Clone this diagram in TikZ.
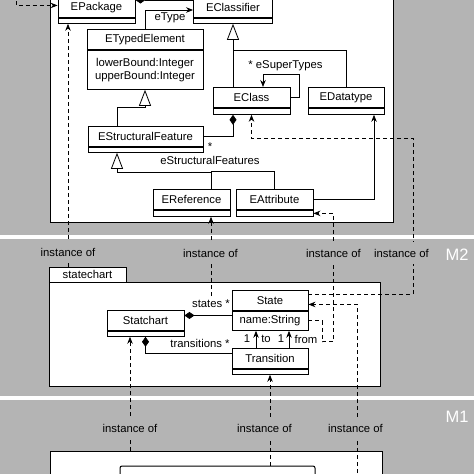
\documentclass[tikz,border=0pt]{standalone}
\usepackage{fontspec}
\setmainfont{Liberation Sans}
\usetikzlibrary{arrows.meta,calc}
\definecolor{bg}{RGB}{180,180,180}
\newcommand{\umlfont}{\fontsize{11.3}{13}\selectfont}
\newcommand{\umlclass}[6]{%
  \node[cname, minimum width=#4pt, anchor=north] (#1) at (#2,#3) {#5};
  \node[ccomp, minimum width=#4pt, minimum height=#6pt, anchor=north] (#1-b) at (#1.south) {};
}
\tikzset{
  cname/.style={draw, fill=white, line width=0.9pt, minimum height=20pt, inner sep=0pt, font=\umlfont},
  ccomp/.style={draw, fill=white, line width=0.9pt, inner sep=0pt, font=\umlfont},
  pkgbox/.style={draw, fill=white, line width=1pt, inner sep=0pt},
  conn/.style={line width=0.8pt},
  assoc/.style={conn, -{Stealth[length=7pt,width=5.5pt]}},
  gen/.style={conn, -{Triangle[open,length=16pt,width=12pt,fill=white]}},
  comp/.style={conn, {Diamond[length=10pt,width=7pt]}-},
  inst/.style={conn, dash pattern=on 4pt off 3pt, -{Stealth[length=7pt,width=5.5pt]}},
  lbl/.style={font=\umlfont, inner sep=1pt},
  inslbl/.style={font=\umlfont, fill=bg, inner xsep=2pt, inner ysep=7pt},
  mlbl/.style={font=\fontsize{16.5}{18}\selectfont, text=white, inner sep=0pt}
}
\begin{document}
\begin{tikzpicture}[x=1pt,y=-1pt]
\useasboundingbox (0,0) rectangle (474,474);
\clip (0,0) rectangle (474,474);
% backgrounds
\fill[bg] (0,0) rectangle (474,474);
\fill[white] (0,234.5) rectangle (474,239);
\fill[white] (0,395.5) rectangle (474,399.5);
% level boxes
\node[pkgbox, minimum width=343pt, minimum height=232pt] (m3) at (221.5,106) {};
\node[pkgbox, minimum width=332pt, minimum height=39pt] (m1) at (216,470.5) {};
\node[pkgbox, minimum width=195pt, minimum height=24pt, rounded corners=2pt] (inner) at (217.5,478) {};
\node[pkgbox, minimum width=331pt, minimum height=104pt] (pkg) at (214.5,334) {};
\node[pkgbox, minimum width=77pt, minimum height=15pt, font=\umlfont] (pkgtab) at (87.5,274.5) {statechart};
% M3 classes
\umlclass{epackage}{96.5}{-3}{77}{EPackage}{5}
\umlclass{eclassifier}{233}{-3}{79}{EClassifier}{5}
\node[cname, minimum width=116pt, anchor=north] (etyped) at (145,29) {ETypedElement};
\node[ccomp, minimum width=116pt, minimum height=39pt, anchor=north, align=center] (etyped-b) at (etyped.south) {lowerBound:Integer\\upperBound:Integer};
\umlclass{eclass}{251.5}{87}{77}{EClass}{6}
\umlclass{edatatype}{346}{87}{76}{EDatatype}{6}
\umlclass{estruct}{145.5}{126}{115}{EStructuralFeature}{5}
\umlclass{eref}{191.5}{189}{77}{EReference}{6}
\umlclass{eattr}{274.5}{189}{77}{EAttribute}{6}
% M2 classes
\umlclass{statchart}{145.5}{310}{77}{Statchart}{5}
\node[cname, minimum width=76pt, anchor=north] (state) at (270,290) {State};
\node[ccomp, minimum width=76pt, minimum height=19pt, anchor=north] (state-b) at (state.south) {name:String};
\umlclass{transition}{270}{348}{76}{Transition}{5}
% M3 connectors
\draw[comp] ([yshift=-3pt]epackage.north east) -- ([yshift=-3pt]eclassifier.north west);
\draw[assoc] (etyped.north) |- ([yshift=-13pt]eclassifier.north west);
\node[lbl] at (170,18) {eType};
\draw[gen] ([xshift=-28.5pt]estruct.north) -- ++(0,-19) -| (etyped-b.south);
\draw[gen] ([xshift=-18.5pt]eclass.north) -- (eclassifier-b.south);
\draw[conn] (edatatype.north) |- ([yshift=-27pt]eclassifier-b.south);
\draw[assoc] (eclass.east) -- ++(9,0) |- ([xshift=11.5pt,yshift=13pt]eclass.north) -- ([xshift=11.5pt]eclass.north);
\node[lbl] at (285.5,66) {* eSuperTypes};
\draw[comp] ([xshift=-18.5pt]eclass-b.south) |- (estruct.east);
\node[lbl] at (210,147) {*};
\node[lbl] at (210,160) {eStructuralFeatures};
\draw[gen] ([xshift=19.5pt]eref.north) |- ([xshift=-28.5pt,yshift=-20pt]estruct-b.south) -- ([xshift=-28.5pt]estruct-b.south);
\draw[conn] (eattr.north) |- ([xshift=19.5pt,yshift=18pt]eref.north);
\draw[assoc] (eattr.east) -| ([xshift=28pt]edatatype-b.south);
% M2 connectors
\draw[comp] ([yshift=5pt]statchart.east) -- ([yshift=5pt]statchart.east -| state.west);
\node[lbl] at (211,304) {states *};
\draw[comp] (statchart-b.south) |- ([yshift=5pt]transition.west);
\node[lbl] at (200,343) {transitions *};
\draw[assoc] ([xshift=-14pt]transition.north) -- ([xshift=-14pt]state-b.south);
\draw[assoc] ([xshift=19pt]transition.north) -- ([xshift=19pt]state-b.south);
\node[lbl] at (247,339) {1};
\node[lbl] at (266,339) {to};
\node[lbl] at (281,339) {1};
\node[lbl] at (306,339) {from};
% instance-of connectors
\coordinate (tl) at (16,-6);
\draw[inst] (tl) |- ([yshift=2pt]epackage.west);
\draw[inst] ([xshift=-19.5pt]pkgtab.north) -- ([xshift=-28.5pt]epackage-b.south);
\coordinate (sref) at (211,296);
\draw[inst] (sref) -- ([xshift=19.5pt]eref-b.south);
\draw[inst] (state-b.east) -- ++(14,0) -- ++(0,21) -- ++(11,0) |- (eattr-b.east);
\coordinate (c1) at (413,138);
\draw[inst] ([yshift=6pt]state.east) -| (c1) -| (eclass-b.south);
\coordinate (c2) at (357,480);
\draw[inst] (c2) |- ([yshift=-4pt]state.east);
\coordinate (c3) at (130,451);
\draw[inst] (c3) -- ([xshift=-15.5pt]statchart-b.south);
\draw[inst] (transition-b.south |- inner.north) -- (transition-b.south);
% labels
\node[inslbl] at (68,252) {instance of};
\node[inslbl] at (210.5,253) {instance of};
\node[inslbl] at (333.5,253) {instance of};
\node[inslbl] at (401.5,253) {instance of};
\node[inslbl] at (130,428) {instance of};
\node[inslbl] at (264.5,428) {instance of};
\node[inslbl] at (355.5,428) {instance of};
\node[mlbl] at (457,255) {M2};
\node[mlbl] at (457,417) {M1};
\end{tikzpicture}
\end{document}
